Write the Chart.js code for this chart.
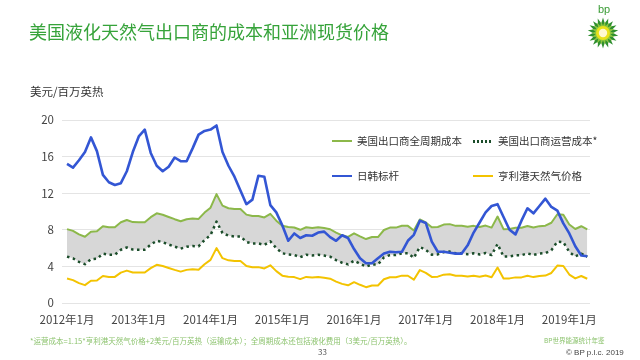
<!DOCTYPE html>
<html>
<head>
<meta charset="utf-8">
<script src="https://cdn.jsdelivr.net/npm/chart.js@4/dist/chart.umd.min.js"></script>
<style>
  html, body { margin:0; padding:0; }
  body { width:640px; height:360px; position:relative; background:#fff; overflow:hidden;
         font-family:"Noto Sans CJK SC","Noto Sans",sans-serif; }
  .abs { position:absolute; white-space:nowrap; }
  #title { left:29px; top:21px; font-size:18px; line-height:20px; color:#36a33a; }
  #unit { left:30px; top:84px; font-size:11.5px; line-height:14px; color:#333; }
  canvas { position:absolute; left:0; top:0; }
  .lg { font-size:10.5px; line-height:14px; color:#333; }
  .sw { position:absolute; width:20px; height:2px; }
  #foot { left:30px; top:336px; font-size:7.5px; line-height:9px; color:#8cc36e; }
  #src { left:544px; top:336px; font-size:6.5px; line-height:9px; color:#8cc36e; }
  #page { left:318px; top:347px; font-size:8px; line-height:10px; color:#555; }
  #copy { left:566px; top:348px; font-size:8px; line-height:10px; color:#444; font-family:"Liberation Sans",sans-serif; }
  #bp { left:598px; top:3px; font-size:11px; line-height:12px; color:#3a9c35; font-family:"Liberation Sans",sans-serif; }
</style>
</head>
<body>
<canvas id="c" width="640" height="360"></canvas>
<div id="title" class="abs">美国液化天然气出口商的成本和亚洲现货价格</div>
<div id="unit" class="abs">美元/百万英热</div>

<div class="sw" style="left:332px;top:140px;background:#8cb84a;"></div>
<div class="abs lg" style="left:357px;top:134px;">美国出口商全周期成本</div>
<div class="sw" style="left:473px;top:140px;height:2.5px;background:repeating-linear-gradient(to right,#1b4d2a 0 2.5px,transparent 2.5px 4px);"></div>
<div class="abs lg" style="left:498px;top:134px;">美国出口商运营成本*</div>
<div class="sw" style="left:332px;top:175px;background:#3356d4;"></div>
<div class="abs lg" style="left:357px;top:169px;">日韩标杆</div>
<div class="sw" style="left:473px;top:175px;background:#f3c300;"></div>
<div class="abs lg" style="left:498px;top:169px;">亨利港天然气价格</div>

<div id="foot" class="abs">*运营成本=1.15*亨利港天然气价格+2美元/百万英热（运输成本）；全周期成本还包括液化费用（3美元/百万英热）。</div>
<div id="src" class="abs">BP世界能源统计年鉴</div>
<div id="page" class="abs">33</div>
<div id="copy" class="abs">© BP p.l.c. 2019</div>
<div id="bp" class="abs">bp</div>
<svg id="helios" class="abs" style="left:587px;top:17px;" width="32" height="32" viewBox="-16 -16 32 32"></svg>

<script>
// ---- data ----
const tickLabels = ['2012年1月','2013年1月','2014年1月','2015年1月','2016年1月','2017年1月','2018年1月','2019年1月'];
const seriesNames = ['美国出口商全周期成本','美国出口商运营成本*','日韩标杆','亨利港天然气价格'];

// monthly, Jan 2012 .. Apr 2019
const fullCycleCost = [8.07,7.88,7.50,7.24,7.79,7.83,8.39,8.27,8.28,8.82,9.07,8.84,
  8.83,8.83,9.38,9.80,9.65,9.40,9.16,8.94,9.16,9.23,9.19,9.88,
  10.42,11.90,10.64,10.36,10.27,10.28,9.66,9.50,9.51,9.35,9.74,9.00,
  8.44,8.30,8.25,8.00,8.28,8.20,8.27,8.19,8.06,7.69,7.40,7.22,
  7.62,7.29,6.99,7.21,7.21,7.98,8.24,8.24,8.44,8.43,7.93,9.13,
  8.80,8.28,8.31,8.57,8.62,8.43,8.43,8.34,8.43,8.31,8.46,8.24,
  9.45,8.07,8.09,8.22,8.22,8.42,8.25,8.40,8.45,8.77,9.70,9.65,
  8.58,8.09,8.39,8.05];
const operatingCost = [5.07,4.88,4.50,4.24,4.79,4.83,5.39,5.27,5.28,5.82,6.07,5.84,
  5.83,5.83,6.38,6.80,6.65,6.40,6.16,5.94,6.16,6.23,6.19,6.88,
  7.42,8.90,7.64,7.36,7.27,7.28,6.66,6.50,6.51,6.35,6.74,6.00,
  5.44,5.30,5.25,5.00,5.28,5.20,5.27,5.19,5.06,4.69,4.40,4.22,
  4.62,4.29,3.99,4.21,4.21,4.98,5.24,5.24,5.44,5.43,4.93,6.13,
  5.80,5.28,5.31,5.57,5.62,5.43,5.43,5.34,5.43,5.31,5.46,5.24,
  6.45,5.07,5.09,5.22,5.22,5.42,5.25,5.40,5.45,5.77,6.70,6.65,
  5.58,5.09,5.39,5.05];
const jkm = [15.2,14.8,15.6,16.5,18.1,16.6,14.0,13.2,12.9,13.1,14.4,16.5,
  18.2,18.95,16.4,15.0,14.4,14.9,15.9,15.5,15.5,16.9,18.4,18.8,
  18.95,19.4,16.5,15.0,13.8,12.3,10.8,11.3,13.9,13.8,10.7,9.9,
  8.5,6.8,7.6,7.1,7.4,7.35,7.7,7.8,7.2,6.8,7.4,7.1,
  5.9,4.9,4.35,4.35,4.9,5.4,5.6,5.55,5.6,6.8,7.45,9.0,
  8.75,6.7,5.6,5.6,5.5,5.4,5.4,6.3,7.7,8.8,9.9,10.6,
  10.8,9.4,8.0,7.5,9.0,10.35,9.8,10.6,11.4,10.5,10.1,8.7,
  7.6,6.2,5.2,5.1];
const henryHub = [2.67,2.50,2.17,1.95,2.43,2.46,2.95,2.84,2.85,3.32,3.54,3.34,
  3.33,3.33,3.81,4.17,4.04,3.83,3.62,3.43,3.62,3.68,3.64,4.24,
  4.71,6.00,4.90,4.66,4.58,4.59,4.05,3.91,3.92,3.78,4.12,3.48,
  2.99,2.87,2.83,2.61,2.85,2.78,2.84,2.77,2.66,2.34,2.09,1.93,
  2.28,1.99,1.73,1.92,1.92,2.59,2.82,2.82,2.99,2.98,2.55,3.59,
  3.30,2.85,2.88,3.10,3.15,2.98,2.98,2.90,2.98,2.88,3.01,2.82,
  3.87,2.67,2.69,2.80,2.80,2.97,2.83,2.96,3.00,3.28,4.09,4.04,
  3.11,2.69,2.95,2.65];
const yTicks = [0,4,8,12,16,20];

// ---- helpers ----
const pts = arr => arr.map((v,i)=>({x:i,y:v}));
const FONT = {family:'"Noto Sans CJK SC","Noto Sans",sans-serif', size:11.5};

new Chart(document.getElementById('c'), {
  type:'line',
  data:{ datasets:[
    {label:seriesNames[0], data:pts(fullCycleCost), borderColor:'#8cb84a', borderWidth:2,
     backgroundColor:'#d7d7d7', fill:'+1', order:1},
    {label:seriesNames[1], data:pts(operatingCost), borderColor:'#1b4d2a', borderWidth:2.5,
     borderDash:[2.5,3.5], fill:false, order:2},
    {label:seriesNames[2], data:pts(jkm), borderColor:'#3356d4', borderWidth:2.6, fill:false, order:0},
    {label:seriesNames[3], data:pts(henryHub), borderColor:'#f3c300', borderWidth:2, fill:false, order:3}
  ]},
  options:{
    responsive:false, animation:false, devicePixelRatio:1,
    layout:{padding:{left:0,right:50,top:120,bottom:0}},
    elements:{point:{radius:0}, line:{tension:0, borderJoinStyle:'round'}},
    plugins:{legend:{display:false}, tooltip:{enabled:false}, filler:{drawTime:'beforeDatasetsDraw'}},
    scales:{
      x:{type:'linear', min:-0.84, max:87.46,
         grid:{display:false, drawTicks:false}, border:{display:false},
         afterBuildTicks:s=>{ s.ticks = tickLabels.map((t,k)=>({value:k*12})); },
         afterFit:s=>{ s.height = 57; },
         ticks:{padding:10, maxRotation:0, autoSkip:false, color:'#444', font:FONT,
                callback:(v,i)=>tickLabels[i]}},
      y:{min:0, max:20,
         grid:{color:'#e4e4e4', lineWidth:1, drawTicks:false}, border:{display:false},
         afterBuildTicks:s=>{ s.ticks = yTicks.map(v=>({value:v})); },
         afterFit:s=>{ s.width = 62; },
         ticks:{padding:8, color:'#444', font:FONT}}
    }
  }
});

// decorative bp helios
(function(){
  const svg = document.getElementById('helios');
  function star(n, ro, ri, rot){
    let p=[];
    for(let k=0;k<2*n;k++){
      const r = k%2? ri: ro; const a = rot + Math.PI*k/n;
      p.push((r*Math.sin(a)).toFixed(2)+','+(-r*Math.cos(a)).toFixed(2));
    }
    return p.join(' ');
  }
  svg.innerHTML =
    '<polygon points="'+star(18,15.5,10,0)+'" fill="#2f8f2f"/>'+
    '<polygon points="'+star(18,12,7.5,Math.PI/18)+'" fill="#8cc63e"/>'+
    '<circle r="7" fill="#e8e21a"/>'+
    '<circle r="4.2" fill="#fff9d0"/>';
})();
</script>
</body>
</html>
